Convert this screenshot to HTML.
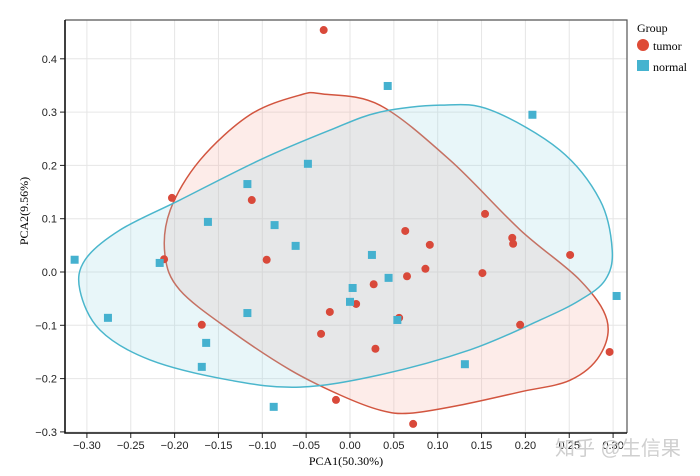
<!DOCTYPE html>
<html><head><meta charset="utf-8"><style>
body{margin:0;background:#fff;}
svg{display:block;font-family:"Liberation Serif",serif;}
</style></head><body>
<svg id="chart" width="700" height="476">
<g id="grid"></g>
<g id="hulls"></g>
<g id="pts"></g>
<g id="axes"></g>
<text x="35" y="218" transform="rotate(-90 28 218)" font-size="12" text-anchor="middle">PCA2(9.56%)</text>
<text x="346" y="465" font-size="12" text-anchor="middle">PCA1(50.30%)</text>
<g>
<text x="637" y="32" font-size="12">Group</text>
<circle cx="643" cy="45" r="6" fill="#de4b36"/>
<text x="653" y="50" font-size="12">tumor</text>
<rect x="637" y="60" width="12" height="11" fill="#45b3cf"/>
<text x="653" y="71" font-size="12">normal</text>
</g>
<text x="555" y="455" font-size="20" fill="#cfcfcf" font-family="'Liberation Sans','Noto Sans CJK SC',sans-serif">知乎 @生信果</text>
</svg>
<script>
const xTicks=[-0.30,-0.25,-0.20,-0.15,-0.10,-0.05,0.00,0.05,0.10,0.15,0.20,0.25,0.30];
const yTicks=[-0.3,-0.2,-0.1,0.0,0.1,0.2,0.3,0.4];
const tumorX=[-0.030,-0.203,-0.112,-0.212,-0.095,0.063,0.091,0.154,0.185,0.186,0.251,0.086,0.065,0.151,-0.169,-0.023,0.027,0.007,-0.033,0.056,0.194,0.029,0.296,-0.016,0.072];
const tumorY=[0.454,0.139,0.135,0.024,0.023,0.077,0.051,0.109,0.064,0.053,0.032,0.006,-0.008,-0.002,-0.099,-0.075,-0.023,-0.060,-0.116,-0.086,-0.099,-0.144,-0.150,-0.240,-0.285];
const normalX=[0.043,0.208,-0.048,-0.117,-0.162,-0.086,-0.062,0.025,-0.217,-0.314,0.003,0.044,0.000,0.054,-0.276,-0.117,-0.164,-0.169,0.131,-0.087,0.304];
const normalY=[0.349,0.295,0.203,0.165,0.094,0.088,0.049,0.032,0.017,0.023,-0.030,-0.011,-0.056,-0.090,-0.086,-0.077,-0.133,-0.178,-0.173,-0.253,-0.045];
const tumorHullX=[-0.031,0.034,0.114,0.194,0.262,0.293,0.285,0.251,0.194,0.125,0.068,0.034,-0.011,-0.068,-0.137,-0.194,-0.211,-0.205,-0.171,-0.114,-0.057];
const tumorHullY=[0.334,0.313,0.210,0.079,-0.015,-0.090,-0.156,-0.203,-0.225,-0.250,-0.265,-0.259,-0.231,-0.184,-0.109,-0.034,0.032,0.116,0.210,0.295,0.332];
const normalHullX=[0.103,0.160,0.239,0.285,0.299,0.291,0.262,0.217,0.137,0.034,-0.057,-0.137,-0.228,-0.285,-0.308,-0.302,-0.262,-0.194,-0.103,-0.023,0.034];
const normalHullY=[0.313,0.304,0.229,0.135,0.041,-0.015,-0.053,-0.090,-0.146,-0.193,-0.216,-0.203,-0.165,-0.109,-0.034,0.023,0.079,0.135,0.210,0.266,0.300];

const L=65,R=627,T=20,B=433;
const sx=v=>350+877*v, sy=v=>272-533*v;
const NS='http://www.w3.org/2000/svg';
function mk(tag,attrs,parent){const e=document.createElementNS(NS,tag);for(const k in attrs)e.setAttribute(k,attrs[k]);parent.appendChild(e);return e;}
const grid=document.getElementById('grid'),axes=document.getElementById('axes');
xTicks.forEach(t=>{
 const g=mk('line',{x1:sx(t),x2:sx(t),y1:T,y2:B,stroke:'#e6e6e6','stroke-width':1},grid);
 
 
 const tk=mk('line',{x1:sx(t),x2:sx(t),y1:B,y2:B+5,stroke:'#222'},axes);
 
 
 const tx=mk('text',{x:sx(t),y:B+16,'font-size':11,'text-anchor':'middle','font-family':'Liberation Sans,sans-serif',fill:'#222'},axes);
 tx.textContent=(t<0?'\u2212':'')+Math.abs(t).toFixed(2);
 
 
});
yTicks.forEach(t=>{
 const g=mk('line',{x1:L,x2:R,y1:sy(t),y2:sy(t),stroke:'#e6e6e6'},grid);
 
 
 const tk=mk('line',{x1:L-5,x2:L,y1:sy(t),y2:sy(t),stroke:'#222'},axes);
 
 
 const tx=mk('text',{x:L-8,y:sy(t)+4,'font-size':11,'text-anchor':'end','font-family':'Liberation Sans,sans-serif',fill:'#222'},axes);
 tx.textContent=(t<0?'\u2212':'')+Math.abs(t).toFixed(1);
 
 
});
const fr=mk('path',{d:`M${L} ${T}H${R}V${B}`,fill:'none',stroke:'#555','stroke-width':1.2},axes);


const ax=mk('path',{d:`M${L} ${T}V${B}H${R}`,fill:'none',stroke:'#111','stroke-width':1.6},axes);



function smooth(xs,ys){
 const p=xs.map((x,i)=>[sx(x),sy(ys[i])]),n=p.length;let d=`M${p[0][0]} ${p[0][1]}`;
 for(let i=0;i<n;i++){const p0=p[(i-1+n)%n],p1=p[i],p2=p[(i+1)%n],p3=p[(i+2)%n];
  d+=`C${p1[0]+(p2[0]-p0[0])/6} ${p1[1]+(p2[1]-p0[1])/6} ${p2[0]-(p3[0]-p1[0])/6} ${p2[1]-(p3[1]-p1[1])/6} ${p2[0]} ${p2[1]}`;}
 return d+'Z';
}
const hulls=document.getElementById('hulls');
const h1=mk('path',{d:smooth(tumorHullX,tumorHullY),fill:'rgba(245,170,155,0.22)',stroke:'#d2553f','stroke-width':1.5},hulls);


const h2=mk('path',{d:smooth(normalHullX,normalHullY),fill:'rgba(150,215,228,0.22)',stroke:'#4ab6cc','stroke-width':1.5},hulls);



const pts=document.getElementById('pts');
tumorX.forEach((x,i)=>{
 const c=mk('circle',{cx:sx(x),cy:sy(tumorY[i]),r:4,fill:'#d9493a'},pts);
 
 
});
normalX.forEach((x,i)=>{
 const r=mk('rect',{x:sx(x)-4,y:sy(normalY[i])-4,width:8,height:8,fill:'#45b1cf'},pts);
 
 
});
</script>
</body></html>
